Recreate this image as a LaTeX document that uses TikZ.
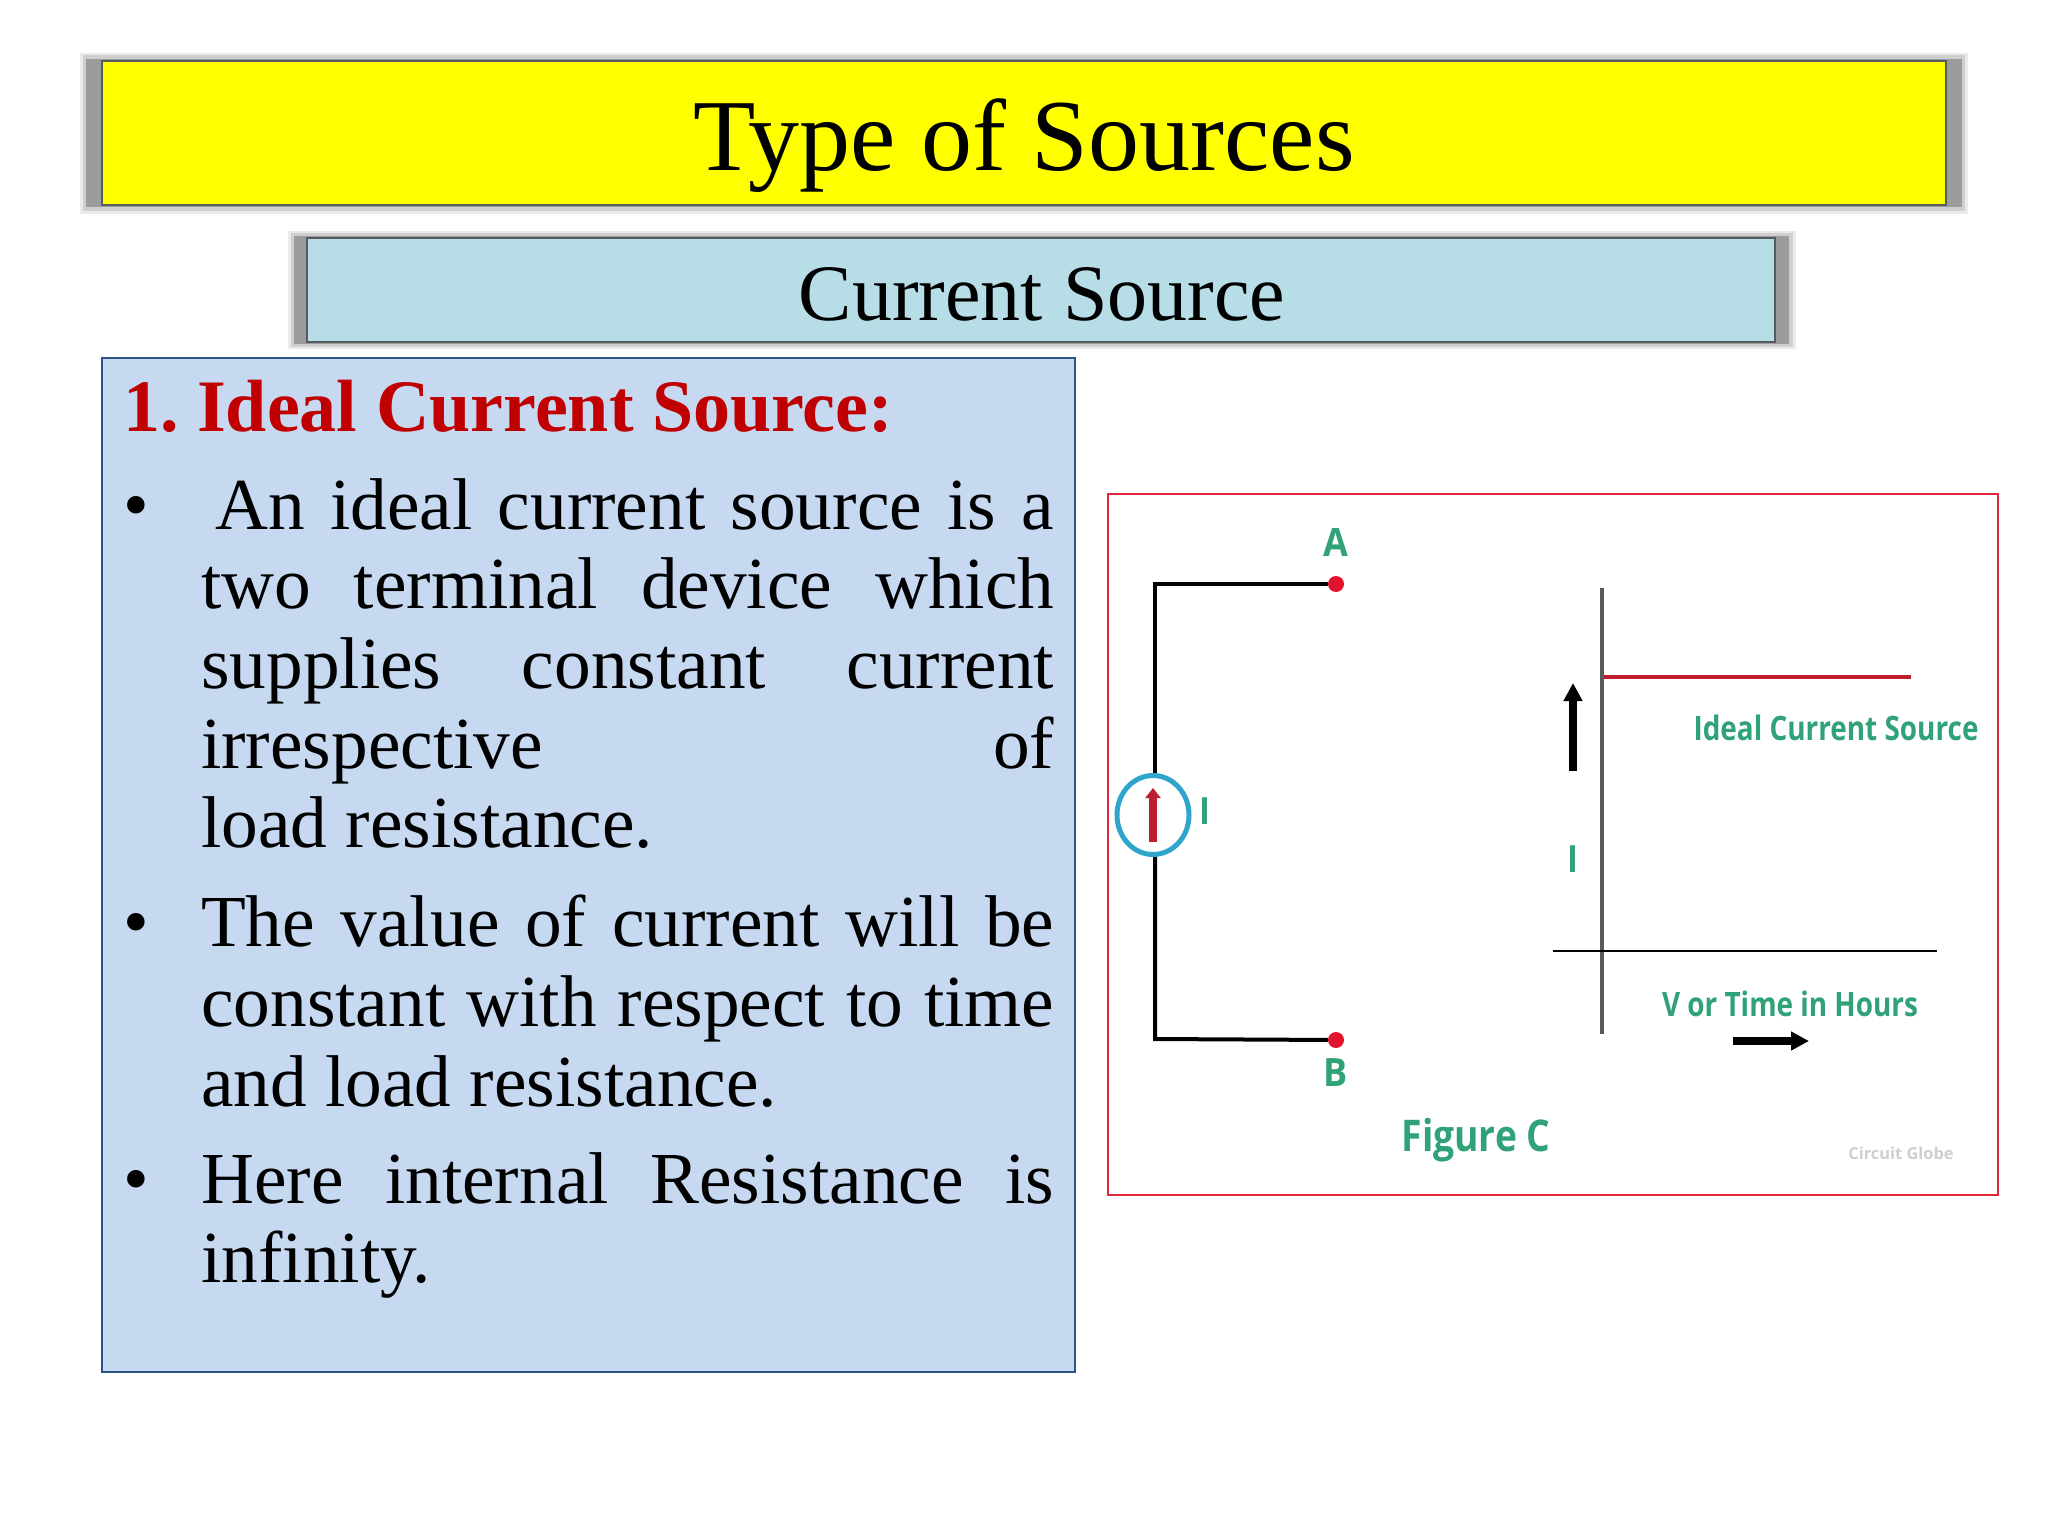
\documentclass[tikz,border=0pt]{standalone}
\usepackage{fontspec}
\setmainfont{Liberation Serif}
\newfontfamily\figfont{Open Sans}
\usetikzlibrary{arrows.meta,shapes.geometric}
\definecolor{haloouter}{HTML}{EBEBEB}
\definecolor{haloinner}{HTML}{CFCFCF}
\definecolor{shadowgray}{HTML}{9C9C9C}
\definecolor{edge}{HTML}{555B5E}
\definecolor{banneryellow}{RGB}{255,255,0}
\definecolor{titleblue}{HTML}{B7DDE7}
\definecolor{bodyblue}{HTML}{C6D9F0}
\definecolor{bodyedge}{HTML}{2C5487}
\definecolor{headred}{HTML}{C00000}
\definecolor{figgreen}{HTML}{2FA277}
\definecolor{framered}{HTML}{E0283A}
\definecolor{ringblue}{HTML}{2FA5CC}
\definecolor{arrowred}{HTML}{BE1E2D}
\definecolor{dotred}{HTML}{E0142C}
\definecolor{axisgray}{HTML}{5A5A5A}
\definecolor{watermark}{HTML}{CFCFCF}
\newlength{\bodyw}
\setlength{\bodyw}{853pt}
\newcommand{\jline}[1]{\leavevmode\hbox to \bodyw{\spaceskip=.25em plus 1fil\relax #1}}
\newcommand{\lastline}[1]{\leavevmode\hbox{\spaceskip=.25em\relax #1}}
\newcommand{\bul}{\llap{\textbullet\hspace{52pt}}}
\newcommand{\figtext}[1]{\scalebox{.93}[1.12]{#1}}
\tikzset{
  x=1pt,y=-1pt,
  bannertext/.style={inner sep=0pt,anchor=center,text=black},
  para/.style={anchor=north west,inner sep=0pt,text width=\bodyw,align=left,
     font=\fontsize{73.3}{79.7}\selectfont},
  figlabel/.style={inner sep=0pt,text=figgreen,font=\figfont\bfseries\fontsize{30}{36}\selectfont},
  wire/.style={line width=4pt,black},
  terminal/.style={circle,fill=dotred,inner sep=0pt,minimum size=16pt},
  bigarrow/.style={black,line width=8.5pt,-{Triangle[length=18pt,width=18pt]}},
}
\begin{document}
\begin{tikzpicture}
\useasboundingbox (0,0) rectangle (2048,1536);
\fill[white] (0,0) rectangle (2048,1536);
% title banner
\fill[haloouter] (80,53) rectangle (1968,214);
\fill[haloinner] (83,55) rectangle (1965,211);
\fill[shadowgray] (86,59) rectangle (1962,207);
\node[draw=edge,line width=1.5pt,fill=banneryellow,minimum width=1844pt,minimum height=144pt,inner sep=0pt] (title) at (1024,133) {};
\node[bannertext,font=\fontsize{102}{112}\selectfont] (titletext) at (1024,146) {Type of Sources};
% subtitle banner
\fill[haloouter] (288,231) rectangle (1796,349);
\fill[haloinner] (291,233) rectangle (1793,347);
\fill[shadowgray] (294,236) rectangle (1789,344);
\node[draw=edge,line width=1.5pt,fill=titleblue,minimum width=1468pt,minimum height=104pt,inner sep=0pt] (sub) at (1041,290) {};
\node[bannertext,font=\fontsize{80}{90}\selectfont] (subtext) at (1042,294) {Current Source};
% body box
\fill[bodyblue,draw=bodyedge,line width=1.5pt] (102,358) rectangle (1075,1372);
\node[anchor=base west,inner sep=0pt,text=headred,font=\bfseries\fontsize{74}{80}\selectfont\frenchspacing] (head) at (123,431) {1. Ideal Current Source:};
\node[para] (p1) at (201,478) {%
\jline{\bul\hspace{14pt}An ideal current source is a}\\
\jline{two terminal device which}\\
\jline{supplies constant current}\\
\jline{irrespective of}\\
\lastline{load resistance.}};
\node[para] (p2) at (201,895) {%
\jline{\bul The value of current will be}\\
\jline{constant with respect to time}\\
\lastline{and load resistance.}};
\node[para] (p3) at (201,1152) {%
\jline{\bul Here internal Resistance is}\\
infinity.};
% figure frame
\draw[framered,line width=2pt,fill=white] (1108,494) rectangle (1998,1195);
% circuit
\coordinate (tl) at (1155,584);
\coordinate (bl) at (1155,1039);
\node[terminal] (A) at (1336,584) {};
\node[terminal] (B) at (1336,1040) {};
\node[ellipse,draw=ringblue,line width=5pt,minimum width=72pt,minimum height=79pt,inner sep=0pt] (src) at (1153,815) {};
\draw[wire] (A) -- (tl) -- (src.north -| tl);
\draw[wire] (B) -- (bl) -- (src.south -| bl);
\draw[arrowred,line width=8pt,-{Triangle[length=10pt,width=15pt]}] (1153,842) -- (1153,788);
\node[figlabel] (Ilab) at (1205,811) {\scalebox{1.1}[1.25]{I}};
\node[figlabel] (Alab) at (1336,543) {\scalebox{1.2}[1.3]{A}};
\node[figlabel] (Blab) at (1336,1073) {\scalebox{1.2}[1.3]{B}};
\node[figlabel,font=\figfont\bfseries\fontsize{38}{44}\selectfont] (figc) at (1476,1140) {\scalebox{.98}[1.15]{Figure C}};
% graph
\coordinate (yb) at (1602,1034);
\coordinate (yt) at (1602,588);
\coordinate (xl) at (1553,951);
\coordinate (xr) at (1937,951);
\coordinate (rl) at (1604,677);
\coordinate (rr) at (1911,677);
\draw[axisgray,line width=4pt] (yb) -- (yt);
\draw[black,line width=2.5pt] (xl) -- (xr);
\draw[arrowred,line width=4pt] (rl) -- (rr);
\coordinate (ua) at (1573,771);
\coordinate (ub) at (1573,683);
\draw[bigarrow] (ua) -- (ub);
\coordinate (ra) at (1733,1041);
\coordinate (rb) at (1809,1041);
\draw[bigarrow] (ra) -- (rb);
\node[figlabel] (Iax) at (1573,859) {\scalebox{1.1}[1.25]{I}};
\node[figlabel] (ics) at (1836,728) {\figtext{Ideal Current Source}};
\node[figlabel] (vt) at (1790,1004) {\figtext{V or Time in Hours}};
\node[inner sep=0pt,text=watermark,font=\figfont\bfseries\fontsize{16.4}{20}\selectfont] (cg) at (1901,1153) {Circuit Globe};
\end{tikzpicture}
\end{document}
